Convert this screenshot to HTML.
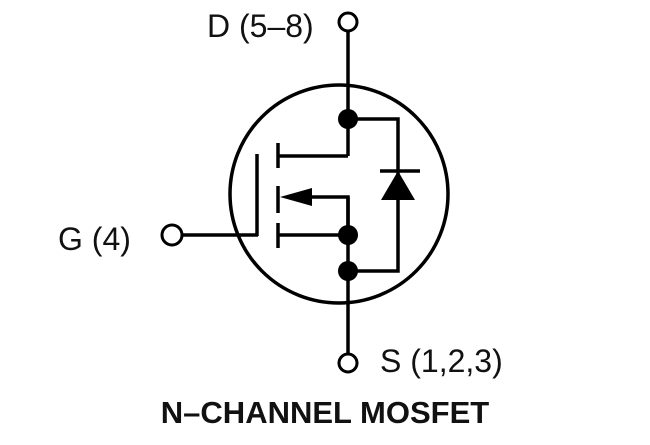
<!DOCTYPE html>
<html><head><meta charset="utf-8"><style>
html,body{margin:0;padding:0;background:#fff;}
svg{display:block;}
text{font-family:"Liberation Sans",Arial,sans-serif;fill:#111;}
</style></head><body>
<svg width="650" height="445" viewBox="0 0 650 445" xmlns="http://www.w3.org/2000/svg">
<g stroke="#000" stroke-width="3.5" fill="none">
  <circle cx="339" cy="194" r="109"/>
  <line x1="348" y1="31" x2="348" y2="156"/>
  <line x1="348" y1="197" x2="348" y2="354"/>
  <circle cx="348" cy="22" r="9" stroke-width="3"/>
  <circle cx="348" cy="363" r="9" stroke-width="3"/>
  <polyline points="278,156 348,156"/>
  <polyline points="310,197 348,197 348,235"/>
  <line x1="278" y1="235" x2="348" y2="235"/>
  <line x1="278" y1="143" x2="278" y2="168"/>
  <line x1="278" y1="186" x2="278" y2="213"/>
  <line x1="278" y1="223" x2="278" y2="248"/>
  <line x1="257" y1="154" x2="257" y2="236"/>
  <line x1="182" y1="235" x2="258" y2="235"/>
  <circle cx="172" cy="235" r="10" stroke-width="3"/>
  <polyline points="348,119 398,119 398,271 348,271"/>
  <line x1="380" y1="171" x2="420" y2="171"/>
</g>
<polygon points="280,197 312,188 312,206" fill="#000"/>
<polygon points="398,171 381,200 415,200" fill="#000"/>
<circle cx="348" cy="119" r="10" fill="#000"/>
<circle cx="348" cy="235" r="10" fill="#000"/>
<circle cx="348" cy="271" r="10" fill="#000"/>
<text x="207" y="37" font-size="32">D (5–8)</text>
<text x="58" y="250" font-size="32">G (4)</text>
<text x="380" y="372" font-size="32">S (1,2,3)</text>
<text x="325" y="423" font-size="31" font-weight="bold" text-anchor="middle">N–CHANNEL MOSFET</text>
</svg>
</body></html>
